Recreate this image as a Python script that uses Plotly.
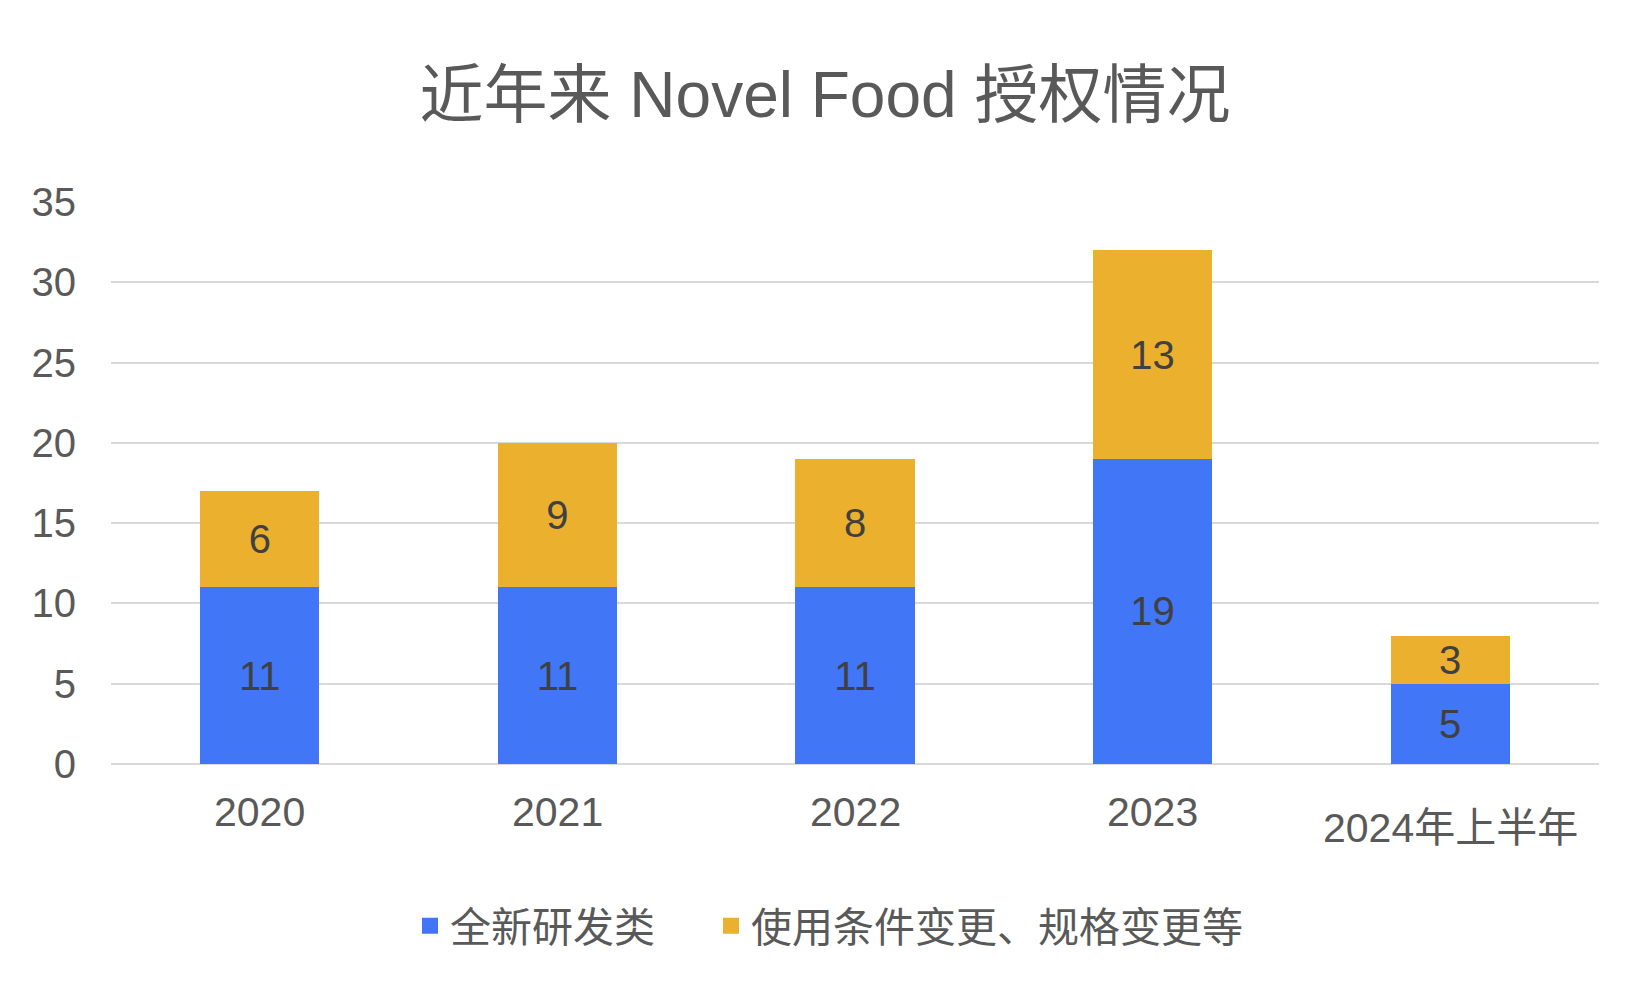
import plotly.graph_objects as go

categories = ["2020", "2021", "2022", "2023", "2024年上半年"]
new_dev = [11, 11, 11, 19, 5]
changes = [6, 9, 8, 13, 3]
series_names = ["全新研发类", "使用条件变更、规格变更等"]
colors = ["#4176F6", "#EBB02D"]
y_ticks = [0, 5, 10, 15, 20, 25, 30, 35]

FONT = "Liberation Sans, Arial, Noto Sans CJK SC, sans-serif"
TXT = "#595959"

fig = go.Figure()
for name, vals, col in zip(series_names, [new_dev, changes], colors):
    fig.add_trace(go.Bar(
        x=categories, y=vals, name=name, marker=dict(color=col, line=dict(width=0)),
        text=[str(v) for v in vals], textposition="inside", insidetextanchor="middle",
        textangle=0, constraintext="none",
        textfont=dict(size=40, color="#404040", family=FONT),
        showlegend=False, hoverinfo="skip"))
legend_ids = ["legend", "legend2"]
for name, col, lg in zip(series_names, colors, legend_ids):
    fig.add_trace(go.Scatter(
        x=[categories[0]], y=[None], mode="markers", name=name, legend=lg,
        marker=dict(symbol="square", size=19, color=col), showlegend=True,
        hoverinfo="skip"))

for i, c in enumerate(categories):
    fig.add_annotation(x=i, xref="x", y=0, yref="paper", yanchor="top",
                       text=c, showarrow=False, yshift=-23 if c.isascii() else -39,
                       font=dict(size=41, color=TXT, family=FONT))

legend_common = dict(orientation="h", xanchor="left", xref="container",
                     y=1 - 926 / 990, yanchor="middle", yref="container",
                     font=dict(size=41, color=TXT, family=FONT), itemwidth=30,
                     bgcolor="rgba(0,0,0,0)")

fig.update_layout(
    width=1650, height=990,
    margin=dict(l=111, r=51, t=202, b=226),
    barmode="stack", bargap=0.6,
    plot_bgcolor="white", paper_bgcolor="white",
    title=dict(text="近年来 Novel Food 授权情况", x=0.5, xanchor="center",
               y=1 - 95 / 990, yanchor="middle",
               font=dict(size=64, color=TXT, family=FONT)),
    xaxis=dict(type="category", categoryorder="array", categoryarray=categories,
               range=[-0.5, len(categories) - 0.5],
               showticklabels=False, showgrid=False, showline=False, zeroline=False,
               ticks=""),
    yaxis=dict(range=[0, 35], tickvals=y_ticks, showgrid=True, gridcolor="#D9D9D9",
               gridwidth=2, zeroline=True, zerolinecolor="#D9D9D9", zerolinewidth=2,
               showline=False, ticks="", ticklabelstandoff=34,
               tickfont=dict(size=40, color=TXT, family=FONT)),
    legend=dict(x=410 / 1650, **legend_common),
    legend2=dict(x=711 / 1650, **legend_common),
)
fig.write_html("out.html")
